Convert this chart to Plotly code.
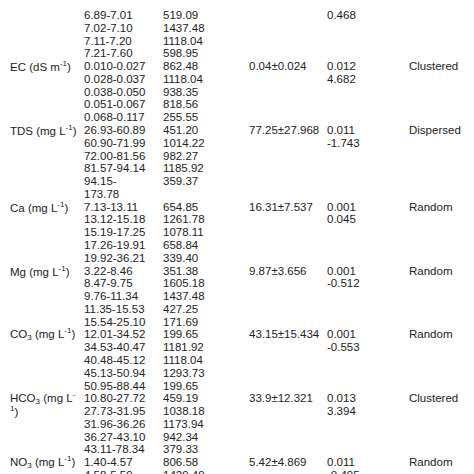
import plotly.graph_objects as go

# one entry per printed line of the table
parameter = ['', '', '', '', 'EC (dS m<sup>-1</sup>)', '', '', '', '',
             'TDS (mg L<sup>-1</sup>)', '', '', '', '', '',
             'Ca (mg L<sup>-1</sup>)', '', '', '', '',
             'Mg (mg L<sup>-1</sup>)', '', '', '', '',
             'CO<sub>3</sub> (mg L<sup>-1</sup>)', '', '', '', '',
             'HCO<sub>3</sub> (mg L<sup>-</sup>', '<sup>1</sup>)', '', '', '',
             'NO<sub>3</sub> (mg L<sup>-1</sup>)', '']
ranges = ['6.89-7.01', '7.02-7.10', '7.11-7.20', '7.21-7.60',
          '0.010-0.027', '0.028-0.037', '0.038-0.050', '0.051-0.067', '0.068-0.117',
          '26.93-60.89', '60.90-71.99', '72.00-81.56', '81.57-94.14', '94.15-', '173.78',
          '7.13-13.11', '13.12-15.18', '15.19-17.25', '17.26-19.91', '19.92-36.21',
          '3.22-8.46', '8.47-9.75', '9.76-11.34', '11.35-15.53', '15.54-25.10',
          '12.01-34.52', '34.53-40.47', '40.48-45.12', '45.13-50.94', '50.95-88.44',
          '10.80-27.72', '27.73-31.95', '31.96-36.26', '36.27-43.10', '43.11-78.34',
          '1.40-4.57', '4.58-5.59']
areas = ['519.09', '1437.48', '1118.04', '598.95',
         '862.48', '1118.04', '938.35', '818.56', '255.55',
         '451.20', '1014.22', '982.27', '1185.92', '359.37', '',
         '654.85', '1261.78', '1078.11', '658.84', '339.40',
         '351.38', '1605.18', '1437.48', '427.25', '171.69',
         '199.65', '1181.92', '1118.04', '1293.73', '199.65',
         '459.19', '1038.18', '1173.94', '942.34', '379.33',
         '806.58', '1429.49']
mean_sd = ['', '', '', '', '0.04±0.024', '', '', '', '',
           '77.25±27.968', '', '', '', '', '',
           '16.31±7.537', '', '', '', '',
           '9.87±3.656', '', '', '', '',
           '43.15±15.434', '', '', '', '',
           '33.9±12.321', '', '', '', '',
           '5.42±4.869', '']
stats = ['0.468', '', '', '', '0.012', '4.682', '', '', '',
         '0.011', '-1.743', '', '', '', '',
         '0.001', '0.045', '', '', '',
         '0.001', '-0.512', '', '', '',
         '0.001', '-0.553', '', '', '',
         '0.013', '3.394', '', '', '',
         '0.011', '-0.495']
pattern = ['', '', '', '', 'Clustered', '', '', '', '',
           'Dispersed', '', '', '', '', '',
           'Random', '', '', '', '',
           'Random', '', '', '', '',
           'Random', '', '', '', '',
           'Clustered', '', '', '', '',
           'Random', '']

columns = [parameter, ranges, areas, mean_sd, stats, pattern]
col_x = [0, 74, 153, 239, 317, 399]

fig = go.Figure()
annotations = []
for xpos, col in zip(col_x, columns):
    for row, txt in enumerate(col):
        if not txt:
            continue
        annotations.append(dict(
            x=xpos, y=row, text=txt, xref='x', yref='y',
            xanchor='left', yanchor='middle', showarrow=False,
            font=dict(family='Liberation Sans, Arial', size=11.5, color='#222')))

fig.update_layout(
    width=474, height=474,
    margin=dict(l=0, r=0, t=0, b=0),
    paper_bgcolor='white', plot_bgcolor='white',
    xaxis=dict(range=[0, 474], visible=False, fixedrange=True),
    yaxis=dict(range=[36.55, -0.55], visible=False, fixedrange=True),
    annotations=annotations,
)
fig.write_html("out.html")
